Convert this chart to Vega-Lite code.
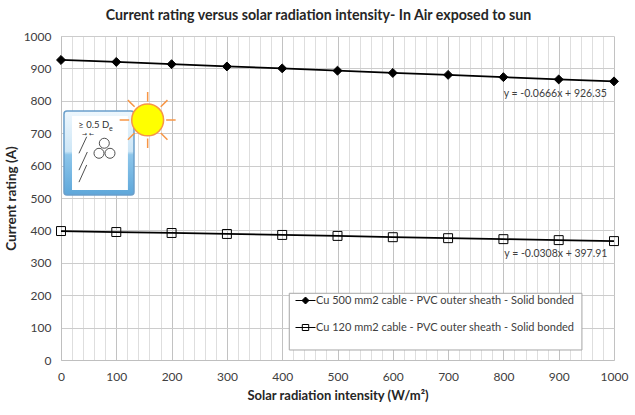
{
  "$schema": "https://vega.github.io/schema/vega-lite/v6.json",
  "width": 553,
  "height": 324,
  "autosize": "none",
  "padding": {"left": 61, "top": 36, "right": 21, "bottom": 55},
  "background": "white",
  "config": {"font": "Lato", "view": {"stroke": null}},
  "title": {
    "text": "Current rating versus solar radiation intensity- In Air exposed to sun",
    "font": "Lato", "fontSize": 14.2, "fontWeight": "bold", "color": "#262626",
    "anchor": "middle", "frame": "group", "dx": -19, "offset": 7
  },
  "datasets": {
    "ratings": [
      {"x": 0, "y": 926, "series": "Cu 500 mm2 cable - PVC outer sheath - Solid bonded"},
      {"x": 100, "y": 920, "series": "Cu 500 mm2 cable - PVC outer sheath - Solid bonded"},
      {"x": 200, "y": 913, "series": "Cu 500 mm2 cable - PVC outer sheath - Solid bonded"},
      {"x": 300, "y": 906, "series": "Cu 500 mm2 cable - PVC outer sheath - Solid bonded"},
      {"x": 400, "y": 900, "series": "Cu 500 mm2 cable - PVC outer sheath - Solid bonded"},
      {"x": 500, "y": 893, "series": "Cu 500 mm2 cable - PVC outer sheath - Solid bonded"},
      {"x": 600, "y": 886, "series": "Cu 500 mm2 cable - PVC outer sheath - Solid bonded"},
      {"x": 700, "y": 880, "series": "Cu 500 mm2 cable - PVC outer sheath - Solid bonded"},
      {"x": 800, "y": 873, "series": "Cu 500 mm2 cable - PVC outer sheath - Solid bonded"},
      {"x": 900, "y": 866, "series": "Cu 500 mm2 cable - PVC outer sheath - Solid bonded"},
      {"x": 1000, "y": 860, "series": "Cu 500 mm2 cable - PVC outer sheath - Solid bonded"},
      {"x": 0, "y": 398, "series": "Cu 120 mm2 cable - PVC outer sheath - Solid bonded"},
      {"x": 100, "y": 395, "series": "Cu 120 mm2 cable - PVC outer sheath - Solid bonded"},
      {"x": 200, "y": 392, "series": "Cu 120 mm2 cable - PVC outer sheath - Solid bonded"},
      {"x": 300, "y": 389, "series": "Cu 120 mm2 cable - PVC outer sheath - Solid bonded"},
      {"x": 400, "y": 386, "series": "Cu 120 mm2 cable - PVC outer sheath - Solid bonded"},
      {"x": 500, "y": 383, "series": "Cu 120 mm2 cable - PVC outer sheath - Solid bonded"},
      {"x": 600, "y": 379, "series": "Cu 120 mm2 cable - PVC outer sheath - Solid bonded"},
      {"x": 700, "y": 376, "series": "Cu 120 mm2 cable - PVC outer sheath - Solid bonded"},
      {"x": 800, "y": 373, "series": "Cu 120 mm2 cable - PVC outer sheath - Solid bonded"},
      {"x": 900, "y": 370, "series": "Cu 120 mm2 cable - PVC outer sheath - Solid bonded"},
      {"x": 1000, "y": 367, "series": "Cu 120 mm2 cable - PVC outer sheath - Solid bonded"}
    ],
    "fits": [
      {"x": 987, "y": 822, "label": "y = -0.0666x + 926.35"},
      {"x": 988, "y": 328, "label": "y = -0.0308x + 397.91"}
    ],
    "iconFrame": [{"x": 5.4, "xe": 132, "y": 509, "ye": 768.5}],
    "iconPanel": [{"x": 19.9, "xe": 121, "y": 525, "ye": 753}],
    "sun": [{"x": 156.7, "y": 741}],
    "cables": [{"x": 78.3, "y": 669}, {"x": 68.7, "y": 638}, {"x": 88.6, "y": 638}],
    "wall": [
      {"x": 46.5, "y": 689, "xe": 32.5, "ye": 638},
      {"x": 47.6, "y": 642, "xe": 32.5, "ye": 586},
      {"x": 46.5, "y": 602, "xe": 32.5, "ye": 549}
    ],
    "iconText": [{"x": 31.3, "y": 715, "label": "≥ 0.5 D"}],
    "iconSub": [{"x": 87, "y": 708, "label": "e"}],
    "iconArrows": [{"x": 38, "y": 697, "label": "→    ←"}],
    "legendBox": [{"x": 412.8, "xe": 942, "y": 30.9, "ye": 205.9}]
  },
  "encoding": {
    "x": {
      "field": "x", "type": "quantitative",
      "scale": {"domain": [0, 1000], "nice": false, "zero": false},
      "axis": {
        "tickCount": 100,
        "values": [0,20,40,60,80,100,120,140,160,180,200,220,240,260,280,300,320,340,360,380,400,420,440,460,480,500,520,540,560,580,600,620,640,660,680,700,720,740,760,780,800,820,840,860,880,900,920,940,960,980,1000],
        "format": "d",
        "labelExpr": "datum.value % 100 === 0 ? datum.label : ''",
        "labelOverlap": false, "labelFlush": false,
        "gridColor": {"condition": {"test": "datum.value % 100 === 0", "value": "#c2c2c2"}, "value": "#dedede"},
        "ticks": false, "domainColor": "#bfbfbf",
        "labelFont": "Lato", "labelFontSize": 12, "labelColor": "#404040", "labelPadding": 11,
        "title": "Solar radiation intensity (W/m²)",
        "titleFont": "Lato", "titleFontSize": 13, "titleFontWeight": "bold", "titleColor": "#262626", "titlePadding": 7
      }
    },
    "y": {
      "field": "y", "type": "quantitative",
      "scale": {"domain": [0, 1000], "nice": false},
      "axis": {
        "tickCount": 20,
        "values": [0,100,200,300,400,500,600,700,800,900,1000],
        "format": "d", "labelOverlap": false,
        "gridColor": "#cccccc", "ticks": false, "domainColor": "#bfbfbf",
        "labelFont": "Lato", "labelFontSize": 12, "labelColor": "#404040", "labelPadding": 10,
        "title": "Current rating (A)",
        "titleFont": "Lato", "titleFontSize": 13.5, "titleFontWeight": "bold", "titleColor": "#262626", "titlePadding": 5
      }
    }
  },
  "layer": [
    {
      "data": {"name": "ratings"},
      "mark": {"type": "line", "color": "#000000", "strokeWidth": 1.75},
      "encoding": {"detail": {"field": "series"}}
    },
    {
      "data": {"name": "iconFrame"},
      "mark": {
        "type": "rect", "cornerRadius": 3, "stroke": "#6a9fcb", "strokeWidth": 1.5,
        "fill": {"gradient": "linear", "x1": 0, "y1": 0, "x2": 0, "y2": 1,
          "stops": [
            {"offset": 0, "color": "#eef7fd"},
            {"offset": 0.48, "color": "#cde6f6"},
            {"offset": 0.52, "color": "#8ec6ea"},
            {"offset": 1, "color": "#5ea7da"}
          ]}
      },
      "encoding": {"x2": {"field": "xe"}, "y2": {"field": "ye"}}
    },
    {
      "data": {"name": "iconPanel"},
      "mark": {"type": "rect", "fill": "#ffffff"},
      "encoding": {"x2": {"field": "xe"}, "y2": {"field": "ye"}}
    },
    {
      "data": {"name": "wall"},
      "mark": {"type": "rule", "stroke": "#505050", "strokeWidth": 1},
      "encoding": {"x2": {"field": "xe"}, "y2": {"field": "ye"}}
    },
    {
      "data": {"name": "cables"},
      "mark": {"type": "point", "shape": "circle", "size": 100, "filled": false, "stroke": "#505050", "strokeWidth": 1, "opacity": 1},
      "encoding": {}
    },
    {
      "data": {"name": "iconText"},
      "mark": {"type": "text", "font": "Lato", "fontSize": 9.5, "color": "#303030", "align": "left", "baseline": "alphabetic"},
      "encoding": {"text": {"field": "label"}}
    },
    {
      "data": {"name": "iconSub"},
      "mark": {"type": "text", "font": "Lato", "fontSize": 7, "color": "#303030", "align": "left", "baseline": "alphabetic"},
      "encoding": {"text": {"field": "label"}}
    },
    {
      "data": {"name": "iconArrows"},
      "mark": {"type": "text", "font": "DejaVu Sans", "fontSize": 6, "color": "#303030", "align": "left", "baseline": "middle"},
      "encoding": {"text": {"field": "label"}}
    },
    {
      "data": {"name": "sun"},
      "mark": {"type": "point", "shape": "M0,-1L0,-0.66M0,1L0,0.66M-1,0L-0.66,0M1,0L0.66,0M0.707,0.707L0.467,0.467M-0.707,-0.707L-0.467,-0.467M0.707,-0.707L0.467,-0.467M-0.707,0.707L-0.467,0.467", "size": 3136, "filled": false, "stroke": "#f79646", "strokeWidth": 1.5, "opacity": 1},
      "encoding": {}
    },
    {
      "data": {"name": "sun"},
      "mark": {"type": "point", "shape": "circle", "size": 1018, "fill": "#ffff00", "stroke": "#f79646", "strokeWidth": 1.5, "opacity": 1},
      "encoding": {}
    },
    {
      "data": {"name": "legendBox"},
      "mark": {"type": "rect", "fill": "#ffffff", "stroke": "#a6a6a6", "strokeWidth": 1},
      "encoding": {"x2": {"field": "xe"}, "y2": {"field": "ye"}}
    },
    {
      "data": {"name": "ratings"},
      "transform": [{"filter": "datum.series === 'Cu 500 mm2 cable - PVC outer sheath - Solid bonded'"}],
      "mark": {"type": "point", "shape": "diamond", "size": 80, "filled": true, "fill": "#000000", "stroke": "#000000", "strokeWidth": 1, "opacity": 1},
      "encoding": {}
    },
    {
      "data": {"name": "ratings"},
      "transform": [{"filter": "datum.series === 'Cu 120 mm2 cable - PVC outer sheath - Solid bonded'"}],
      "mark": {"type": "point", "shape": "square", "size": 80, "filled": false, "stroke": "#000000", "strokeWidth": 1, "opacity": 1},
      "encoding": {}
    },
    {
      "data": {"name": "ratings"},
      "transform": [{"filter": "datum.x < 0"}],
      "mark": {"type": "point", "strokeWidth": 1, "opacity": 1},
      "encoding": {
        "shape": {
          "field": "series", "type": "nominal",
          "scale": {
            "domain": ["Cu 500 mm2 cable - PVC outer sheath - Solid bonded", "Cu 120 mm2 cable - PVC outer sheath - Solid bonded"],
            "range": ["M-1,0H1M0,-0.35L0.35,0L0,0.35L-0.35,0Z", "M-1,0H1M-0.32,-0.3H0.32V0.3H-0.32Z"]
          },
          "legend": {
            "orient": "none", "legendX": 234, "legendY": 254, "title": null,
            "padding": 0, "rowPadding": 11, "offset": 0,
            "labelFont": "Lato", "labelFontSize": 11, "labelColor": "#404040", "labelOffset": 0, "labelLimit": 400,
            "symbolSize": 400, "symbolStrokeColor": "#000000", "symbolStrokeWidth": 1, "symbolOpacity": 1
          }
        },
        "fill": {
          "field": "series", "type": "nominal",
          "scale": {
            "domain": ["Cu 500 mm2 cable - PVC outer sheath - Solid bonded", "Cu 120 mm2 cable - PVC outer sheath - Solid bonded"],
            "range": ["#000000", "transparent"]
          }
        },
        "stroke": {
          "field": "series", "type": "nominal",
          "scale": {
            "domain": ["Cu 500 mm2 cable - PVC outer sheath - Solid bonded", "Cu 120 mm2 cable - PVC outer sheath - Solid bonded"],
            "range": ["#000000", "#000000"]
          }
        }
      }
    },
    {
      "data": {"name": "fits"},
      "mark": {"type": "text", "font": "Lato", "fontSize": 10.5, "color": "#404040", "align": "right", "baseline": "middle"},
      "encoding": {"text": {"field": "label"}}
    }
  ]
}
